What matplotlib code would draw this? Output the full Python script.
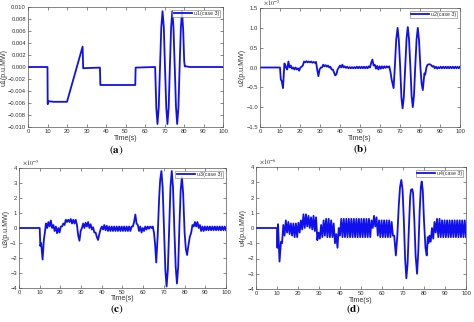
import numpy as np
import matplotlib
matplotlib.use('Agg')
import matplotlib.pyplot as plt
from matplotlib.ticker import ScalarFormatter

plt.rcParams['font.family'] = ['Liberation Sans', 'DejaVu Sans']
plt.rcParams['mathtext.fontset'] = 'stix'

# ---- panel (a): u1, p.u.MW ----
a_t = [0, 10, 10.1, 10.5, 13, 20, 28, 28.3, 36.9, 37.1, 55, 55.2, 65.2,
       65.8, 66.4, 67.05, 67.7, 68.35, 69.0, 69.65, 70.25, 70.9, 71.5,
       72.15, 72.75, 73.4, 74.0, 74.6, 75.25, 75.9, 76.5, 77.15, 77.75,
       78.4, 79.0, 79.6, 80.1, 80.4, 81, 83, 85, 100]
a_v = [0, 0, -0.0062, -0.0057, -0.0058, -0.0058, 0.0034, -0.0002, -0.0001,
       -0.003, -0.003, -0.0001, 0,
       -0.0068, -0.0095, -0.0067, 0, 0.0066, 0.0093, 0.0066, 0, -0.0067,
       -0.0095, -0.0067, 0, 0.0066, 0.0093, 0.0066, 0, -0.0067, -0.0095,
       -0.0067, 0, 0.0066, 0.0093, 0.006, 0.001, 0.0001, 0.0001, 0.0, 0.0, 0.0]

# shared sample times of the small ripple sections (b, c, d)
ripple1_t = [13.0, 13.6, 14.2, 14.8, 15.4, 16.0, 16.6, 17.2, 17.8, 18.4,
             19.0, 19.6, 20.2, 20.8, 21.4, 22.0, 22.6, 23.2, 23.8, 24.4,
             25.0, 25.6, 26.2, 26.8, 27.4, 28.0, 28.6, 29.2, 29.8, 30.4,
             31.0, 31.6, 32.2, 32.8, 33.4, 34.0, 34.6, 35.2, 35.8, 36.4,
             37.0, 37.6, 38.2, 38.8, 39.4, 40.0, 40.6, 41.2, 41.8, 42.4,
             43.0, 43.6, 44.2, 44.8, 45.4, 46.0, 46.6, 47.2, 47.8, 48.4,
             49.0, 49.6, 50.2, 50.8, 51.4, 52.0, 52.6, 53.2, 53.8, 54.4,
             55.0, 55.6, 56.2, 56.8, 57.4, 58.0, 58.6, 59.2, 59.8, 60.4,
             61.0, 61.6, 62.2, 62.8, 63.4, 64.0, 64.6, 65.2]
ripple2_t = [83.2, 83.8, 84.4, 85.0, 85.6, 86.2, 86.8, 87.4, 88.0, 88.6,
             89.2, 89.8, 90.4, 91.0, 91.6, 92.2, 92.8, 93.4, 94.0, 94.6,
             95.2, 95.8, 96.4, 97.0, 97.6, 98.2, 98.8, 99.4, 100.0]

# ---- panel (b): u2, x1e-5 ----
b_lead_t = [0, 10, 10.4, 10.9, 11.5, 12.2, 12.5]
b_lead_v = [0, 0, -0.3, -0.35, -0.52, 0.1, 0.08]
b_rip1 = [0.0, -0.05, 0.15, 0.0, 0.05, -0.03, 0.0, -0.05, 0.0, -0.05,
          -0.02, -0.08, 0.0, 0.02, 0.05, 0.15, 0.13, 0.16, 0.13, 0.15,
          0.13, 0.15, 0.12, 0.14, 0.12, 0.14, -0.05, -0.22, -0.05, 0.0,
          0.0, 0.07, 0.03, 0.06, 0.02, 0.05, 0.0, 0.02, -0.05, -0.05,
          -0.12, -0.2, -0.17, -0.05, 0.0, 0.05, 0.0, 0.07, 0.0, 0.03,
          -0.01, 0.02, -0.02, 0.01, -0.02, 0.01, -0.02, 0.01, -0.02, 0.02,
          -0.02, 0.02, -0.02, 0.02, -0.02, 0.02, -0.02, 0.02, -0.02, 0.03,
          0.0, 0.12, 0.2, 0.05, 0.07, -0.03, 0.04, -0.05, 0.03, -0.03,
          0.03, -0.02, 0.03, -0.01, 0.03, 0.0, 0.03, -0.1]
b_osc_t = [65.8, 66.8, 67.4, 68.1, 68.8, 69.4, 70.1, 70.7, 71.3, 71.9,
           72.6, 73.3, 73.9, 74.5, 75.2, 75.8, 76.4, 77.0, 77.6, 78.3,
           78.9, 79.5, 80.2, 80.8, 81.4, 81.9, 82.2, 82.6]
b_osc_v = [-0.3, -0.52, 0.0, 0.7, 1.0, 0.7, 0.0, -0.75, -1.03, -0.75,
           0.0, 0.75, 1.02, 0.72, 0.0, -0.72, -1.0, -0.7, 0.0, 0.72,
           1.0, 0.7, 0.0, -0.4, -0.57, -0.3, -0.15, -0.18]
b_rip2 = [0.0, 0.07, 0.08, 0.08, 0.06, 0.02, 0.04, -0.02, 0.02, -0.03,
          0.01, -0.02, 0.02, -0.02, 0.02, -0.02, 0.02, -0.02, 0.02, -0.02,
          0.02, -0.02, 0.02, -0.02, 0.02, -0.02, 0.02, -0.02, 0.02]

# ---- panel (c): u3, x1e-5 ----
c_lead_t = [0, 10, 10.3, 10.7, 11.4, 12.0, 12.5]
c_lead_v = [0, 0, -1.2, -1.0, -2.1, -0.8, -0.3]
c_rip1 = [0.3, 0.0, 0.4, 0.1, 0.5, 0.0, 0.2, -0.2, 0.1, -0.35,
          0.0, -0.3, 0.1, 0.1, 0.3, 0.2, 0.55, 0.4, 0.55, 0.4,
          0.6, 0.3, 0.55, 0.3, 0.55, 0.2, -0.5, -0.85, -0.2, 0.0,
          0.3, 0.0, 0.35, 0.1, 0.4, 0.0, 0.25, -0.1, 0.05, -0.3,
          -0.3, -0.6, -0.8, -0.4, -0.1, 0.1, -0.1, 0.2, -0.15, 0.15,
          -0.2, 0.1, -0.2, 0.1, -0.2, 0.1, -0.2, 0.1, -0.2, 0.1,
          -0.2, 0.1, -0.2, 0.1, -0.2, 0.1, -0.2, 0.1, -0.2, 0.1,
          0.1, 0.4, 0.9, 0.3, 0.2, -0.2, 0.1, -0.3, 0.0, -0.2,
          0.1, -0.1, 0.1, -0.05, 0.1, 0.0, 0.1, -0.3]
c_osc_t = [65.7, 66.3, 67.0, 67.7, 68.2, 68.8, 69.4, 70.1, 70.7, 71.3,
           71.9, 72.6, 73.2, 73.8, 74.4, 75.1, 75.7, 76.3, 76.9, 77.5,
           78.1, 78.7, 79.3, 80.0, 80.6, 81.2, 81.8, 82.5]
c_osc_v = [-1.0, -2.3, -0.5, 2.0, 3.2, 3.8, 2.7, -0.3, -2.8, -3.9,
           -2.8, 0.3, 2.8, 3.8, 2.7, -0.3, -2.6, -3.7, -2.6, 0.2,
           2.5, 3.4, 2.3, -0.3, -1.4, -1.8, -1.2, -0.6]
c_rip2 = [-0.3, 0.2, 0.1, 0.4, 0.1, 0.4, 0.0, 0.2, -0.2, 0.1,
          -0.2, 0.1, -0.15, 0.1, -0.15, 0.1, -0.15, 0.1, -0.15, 0.1,
          -0.15, 0.1, -0.15, 0.1, -0.15, 0.1, -0.15, 0.1, -0.15]

# ---- panel (d): u4, x1e-6 ----
d_lead_t = [0, 10, 10.2, 10.5, 11.2, 11.9, 12.4]
d_lead_v = [0, 0, -1.3, 0.25, -2.2, -0.9, -1.0]
d_rip1 = [0.2, -0.5, 0.5, -0.3, 0.4, -0.4, 0.3, -0.5, 0.3, -0.6,
          0.3, -0.6, 0.35, -0.3, 0.5, -0.1, 0.9, 0.0, 0.9, 0.1,
          0.8, 0.0, 0.7, -0.1, 0.8, -0.2, 0.7, -0.8, -0.3, -0.7,
          0.2, -0.6, 0.5, -0.5, 0.6, -0.6, 0.6, -0.6, 0.5, -0.6,
          0.3, -1.0, -0.4, -1.3, 0.0, -0.5, 0.6, -0.6, 0.6, -0.6,
          0.6, -0.6, 0.6, -0.6, 0.6, -0.6, 0.6, -0.6, 0.6, -0.6,
          0.6, -0.6, 0.6, -0.6, 0.6, -0.6, 0.6, -0.6, 0.6, -0.6,
          0.5, 0.0, 0.8, 0.1, 0.7, -0.5, 0.5, -0.6, 0.5, -0.6,
          0.5, -0.6, 0.5, -0.6, 0.5, -0.6, 0.4, -0.5]
d_osc_t = [65.8, 66.6, 67.3, 68.0, 68.6, 69.2, 69.8, 70.4, 71.0, 71.6,
           72.2, 72.8, 73.4, 73.8, 74.4, 74.8, 75.4, 76.0, 76.7, 77.3,
           77.9, 78.5, 78.9, 79.4, 80.0, 80.7, 81.3, 81.8, 82.1, 82.6]
d_osc_v = [-0.5, -1.8, -0.5, 1.5, 2.7, 3.15, 2.5, 0.5, -2.0, -3.3,
           -2.3, 0.0, 2.0, 2.5, 2.55, 2.3, 0.5, -1.8, -3.0, -1.5,
           1.0, 2.7, 3.05, 2.5, 0.5, -1.3, -1.8, -0.6, -1.0, -0.5]
d_rip2 = [-0.9, 0.0, -0.7, 0.4, -0.3, 0.6, -0.6, 0.6, -0.6, 0.5,
          -0.6, 0.5, -0.6, 0.5, -0.6, 0.5, -0.6, 0.5, -0.6, 0.5,
          -0.6, 0.5, -0.6, 0.5, -0.6, 0.5, -0.6, 0.5, -0.6]


def build(lead_t, lead_v, rip1, osc_t, osc_v, rip2, scale):
    t = lead_t + ripple1_t + osc_t + ripple2_t
    v = lead_v + rip1 + osc_v + rip2
    return np.array(t), np.array(v) * scale


b_t, b_v = build(b_lead_t, b_lead_v, b_rip1, b_osc_t, b_osc_v, b_rip2, 1e-5)
c_t, c_v = build(c_lead_t, c_lead_v, c_rip1, c_osc_t, c_osc_v, c_rip2, 1e-5)
d_t, d_v = build(d_lead_t, d_lead_v, d_rip1, d_osc_t, d_osc_v, d_rip2, 1e-6)

W, H = 474, 322
fig = plt.figure(figsize=(W / 100, H / 100), dpi=100)
txt = '#333333'
blue = '#1010ee'


def panel(box, t, v, ylim, ystep, name, tag, tagpos, expo):
    l, top, r, bot = box
    ax = fig.add_axes([l / W, 1 - bot / H, (r - l) / W, (bot - top) / H])
    ax.plot(t, v, color=blue, lw=1.3, label=name + '(case 3)')
    ax.set_xlim(0, 100)
    ax.set_ylim(-ylim, ylim)
    ax.set_xticks(np.arange(0, 101, 10))
    ax.set_yticks(np.arange(-ylim, ylim + ystep / 2, ystep))
    ax.tick_params(direction='in', length=2, width=0.4, labelsize=4.2,
                   colors=txt, pad=1.5, top=True, right=True)
    if expo:
        # MATLAB-style exponent written above the y axis
        fmt = ScalarFormatter()
        fmt.set_powerlimits((0, 0))
        ax.yaxis.set_major_formatter(fmt)
        ax.yaxis.get_offset_text().set_visible(False)
        ax.text(0.015, 1.0, r'$\times10^{' + expo + '}$', transform=ax.transAxes,
                fontsize=4.6, color=txt, ha='left', va='bottom')
    for s in ax.spines.values():
        s.set_linewidth(0.5)
        s.set_color('#555555')
    ax.set_xlabel('Time(s)', fontsize=5, color=txt, labelpad=0.3)
    ax.set_ylabel(name + '(p.u.MW)', fontsize=5, color=txt, labelpad=0.5)
    leg = ax.legend(loc='upper right', fontsize=3.8, handlelength=3.5,
                    borderpad=0.25, handletextpad=0.3, fancybox=False,
                    borderaxespad=0.5, labelcolor=txt)
    leg.get_frame().set_linewidth(0.4)
    leg.get_frame().set_edgecolor('#555555')
    fig.text(tagpos[0] / W, 1 - tagpos[1] / H, r'$(\mathbf{' + tag + '})$',
             ha='center', va='center', fontsize=8)
    return ax


panel((28, 7, 223, 127), a_t, a_v, 0.01, 0.002, 'u1', 'a', (116, 150), None)
panel((260, 8, 460, 127), b_t, b_v, 1.5e-5, 0.5e-5, 'u2', 'b', (361, 149), '-5')
panel((19, 168, 226, 288), c_t, c_v, 4e-5, 1e-5, 'u3', 'c', (117, 309), '-5')
panel((256, 167, 466, 289), d_t, d_v, 4e-6, 1e-6, 'u4', 'd', (354, 309), '-6')

fig.savefig('out.png', dpi=100)
